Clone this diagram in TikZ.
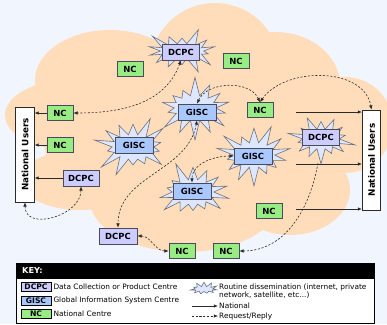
\documentclass[tikz,border=0pt]{standalone}
\usepackage{fontspec}
\setmainfont{DejaVu Sans}
\usetikzlibrary{positioning,arrows.meta,shapes.symbols}
\definecolor{sky}{HTML}{F1F5FD}
\definecolor{cloud}{HTML}{FFDDBB}
\definecolor{dcpcfill}{HTML}{CCCCFF}
\definecolor{giscfill}{HTML}{A9C8FF}
\definecolor{ncfill}{HTML}{98EC84}
\definecolor{burstfill}{HTML}{DDE7FF}
\definecolor{edge}{HTML}{4A4A5A}
\definecolor{ink}{HTML}{2A2A2A}

\tikzset{
  centre/.style={draw=edge,line width=0.6pt,inner sep=0pt,minimum height=0.48cm,
    font=\bfseries\fontsize{7.2}{8}\selectfont},
  dcpc/.style={centre,fill=dcpcfill,minimum width=1.11cm},
  gisc/.style={centre,fill=giscfill,minimum width=1.14cm},
  nc/.style={centre,fill=ncfill,minimum width=0.78cm,minimum height=0.45cm},
  burst/.style={starburst,draw=edge!80,fill=burstfill,line width=0.5pt,inner sep=0pt,
    starburst points=14,starburst point height=0.6cm,minimum width=2.45cm,minimum height=1.95cm},
  users/.style={draw=ink,fill=white,line width=0.6pt,inner sep=0pt,minimum width=0.55cm,
    font=\bfseries\fontsize{7.5}{8}\selectfont},
  nat/.style={->,ink,line width=0.6pt},
  req/.style={<->,ink,line width=0.5pt,dash pattern=on 1.8pt off 1.4pt},
  keybox/.style={draw=black,line width=0.5pt,inner sep=0pt,minimum width=0.9cm,minimum height=0.26cm,
    font=\bfseries\fontsize{6.5}{6.5}\selectfont},
  keytext/.style={anchor=west,inner sep=0pt,align=left,font=\fontsize{6.3}{7.3}\selectfont}
}

\begin{document}
\begin{tikzpicture}[x=0.03cm,y=-0.03cm,>={Latex[length=3.6pt,width=3pt]}]
\useasboundingbox (0,0) rectangle (387,324);
\fill[sky] (0,0) rectangle (387,324);

% cloud
\fill[cloud] (195,145) ellipse [x radius=4.5cm,y radius=2.7cm]
  (215,68) circle [radius=1.95cm]
  (110,80) ellipse [x radius=2.25cm,y radius=1.5cm]
  (275,85) ellipse [x radius=1.95cm,y radius=1.59cm]
  (345,125) circle [radius=1.44cm]
  (70,115) ellipse [x radius=1.95cm,y radius=1.05cm]
  (80,180) ellipse [x radius=1.8cm,y radius=0.9cm]
  (185,200) ellipse [x radius=2.85cm,y radius=1.56cm]
  (290,190) ellipse [x radius=1.8cm,y radius=1.35cm];

% bursts behind the centres
\node[burst,random starburst=3,minimum width=2.3cm,minimum height=1.45cm,starburst point height=0.5cm] (burstT) at (182,51) {};
\node[burst,random starburst=7] (burstU) at (195,108) {};
\node[burst,random starburst=12] (burstL) at (133,147) {};
\node[burst,random starburst=21] (burstR) at (254,155) {};
\node[burst,random starburst=5] (burstB) at (193,192) {};
\node[burst,random starburst=9,minimum width=2.1cm,minimum height=1.6cm,starburst point height=0.5cm] (burstD) at (321,139) {};

% centres
\node[dcpc] (dcpcT) at (181,52) {DCPC};
\node[nc] (ncT1) at (130,69) {NC};
\node[nc] (ncT2) at (236,61) {NC};
\node[nc] (ncL1) at (60,113) {NC};
\node[gisc] (giscU) at (197,112) {GISC};
\node[nc] (ncR) at (260,110) {NC};
\node[gisc] (giscL) at (134,145) {GISC};
\node[nc] (ncL2) at (60,145) {NC};
\node[dcpc,minimum width=1.08cm] (dcpcL) at (81,178) {DCPC};
\node[gisc] (giscR) at (253,156) {GISC};
\node[gisc] (giscB) at (192,191) {GISC};
\node[dcpc] (dcpcR) at (321,137) {DCPC};
\node[nc] (ncRB) at (269,211) {NC};
\node[dcpc,minimum width=1.14cm] (dcpcB) at (118,236) {DCPC};
\node[nc] (ncB1) at (182,251) {NC};
\node[nc] (ncB2) at (226,251) {NC};
\node[users,minimum height=2.85cm] (usersL) at (25,154.5) {\rotatebox{90}{National Users}};
\node[users,minimum height=3cm] (usersR) at (371.5,160) {\rotatebox{90}{National Users}};

% national links
\coordinate (natR1) at (296,112);
\coordinate (natR2) at (296,164);
\coordinate (natR3) at (296,209);
\draw[nat] (ncL1) -- (ncL1 -| usersL.east);
\draw[nat] (ncL2) -- (ncL2 -| usersL.east);
\draw[nat] (dcpcL) -- (dcpcL -| usersL.east);
\draw[nat] (natR1) -- (natR1 -| usersR.west);
\draw[nat] (natR2) -- (natR2 -| usersR.west);
\draw[nat] (natR3) -- (natR3 -| usersR.west);

% request/reply
\coordinate (dcpcRfoot) at (318,163);
\draw[req] (dcpcT.south) to[out=-110,in=0] (ncL1.east);
\draw[req] (giscU.north) to[out=65,in=115] (ncR.north);
\draw[req] (ncR.north) to[out=55,in=100] (usersR.north);
\draw[req] (giscU.south) to[out=-100,in=90] (dcpcB.north);
\draw[req] (giscR.west) to[out=180,in=90] (giscB.north);
\draw[req] (dcpcL.south) to[out=-90,in=-90,looseness=1.3] (usersL.south);
\draw[req] (dcpcB.east) to[out=0,in=180] (ncB1.west);
\draw[req,->] (dcpcRfoot) to[out=-100,in=0] (ncB2.east);

% key
\node[draw=black,fill=white,line width=0.6pt,inner sep=0pt,anchor=north west,
  minimum width=10.74cm,minimum height=1.8cm] (keyframe) at (16,263) {};
\node[fill=black,inner sep=0pt,anchor=north west,minimum width=10.74cm,minimum height=0.48cm] (keyhead) at (16,263) {};
\node[anchor=west,inner sep=0pt,text=white,font=\bfseries\fontsize{7}{8}\selectfont] (keytitle) at (22,271) {KEY:};
\node[keybox,fill=dcpcfill] (kdcpc) at (36,287) {DCPC};
\node[keybox,fill=giscfill] (kgisc) at (36,300.5) {GISC};
\node[keybox,fill=ncfill] (knc) at (36,314) {NC};
\node[keytext,right=0.06cm of kdcpc] (tdcpc) {Data Collection or Product Centre};
\node[keytext,right=0.06cm of kgisc] (tgisc) {Global Information System Centre};
\node[keytext,right=0.06cm of knc] (tnc) {National Centre};
\node[burst,random starburst=4,starburst points=11,starburst point height=0.15cm,
  minimum width=0.85cm,minimum height=0.45cm] (kburst) at (204,289) {};
\node[keytext] (tburst) at (219,291) {Routine dissemination (internet, private\\network, satellite, etc...)};
\coordinate (knatA) at (192,306);
\coordinate (knatB) at (218,306);
\coordinate (kreqA) at (192,316);
\coordinate (kreqB) at (218,316);
\draw[nat] (knatA) -- (knatB);
\draw[req,->] (kreqA) -- (kreqB);
\node[keytext,right=0.03cm of knatB] (tnat) {National};
\node[keytext,right=0.03cm of kreqB] (treq) {Request/Reply};
\end{tikzpicture}
\end{document}
